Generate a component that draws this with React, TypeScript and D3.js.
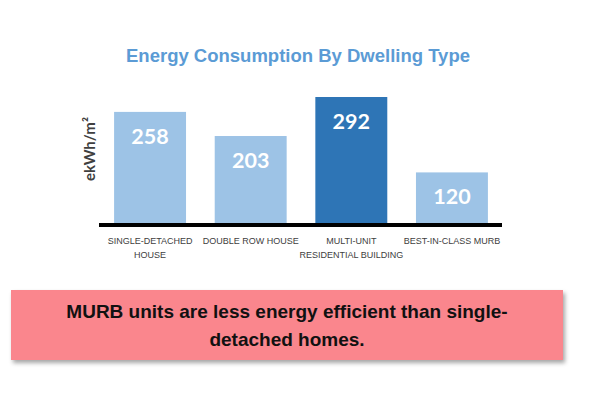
import { useEffect, useRef } from "react";
import * as d3 from "d3";

const CATEGORIES = ["single", "row", "murb", "best"];
const CATEGORY_LABELS: string[][] = [
  ["SINGLE-DETACHED", "HOUSE"],
  ["DOUBLE ROW HOUSE"],
  ["MULTI-UNIT", "RESIDENTIAL BUILDING"],
  ["BEST-IN-CLASS MURB"],
];
const VALUES = [258, 203, 292, 120];
const HIGHLIGHT = "murb";

const TITLE = "Energy Consumption By Dwelling Type";
const Y_LABEL = "ekWh/m²";
const CALLOUT = ["MURB units are less energy efficient than single-", "detached homes."];

export default function App() {
  const ref = useRef<SVGSVGElement>(null);

  useEffect(() => {
    const el = ref.current;
    if (!el) return;
    const W = 601, H = 416;
    const svg = d3.select(el).attr("width", W).attr("height", H).attr("viewBox", `0 0 ${W} ${H}`);
    svg.selectAll("*").remove();

    const data = CATEGORIES.map((k, i) => ({ key: k, v: VALUES[i], lines: CATEGORY_LABELS[i] }));
    const x = d3.scaleBand<string>().domain(CATEGORIES).range([100, 502]).paddingInner(0.285).paddingOuter(0.14);
    const y = d3.scaleLinear().domain([0, 292]).range([225, 97]);

    // drop shadow for callout
    const defs = svg.append("defs");
    const f = defs.append("filter").attr("id", "shadow").attr("x", "-5%").attr("y", "-10%").attr("width", "112%").attr("height", "130%");
    f.append("feDropShadow").attr("dx", 2).attr("dy", 3).attr("stdDeviation", 2).attr("flood-color", "#000").attr("flood-opacity", 0.35);

    svg.append("text")
      .attr("x", 298).attr("y", 62).attr("text-anchor", "middle")
      .attr("font-family", "'Liberation Sans', Arial, sans-serif").attr("font-weight", "bold").attr("font-size", 18.5)
      .attr("fill", "#5B9BD5").text(TITLE);

    svg.append("g").selectAll("rect").data(data).join("rect")
      .attr("x", (d) => x(d.key) ?? 0).attr("width", x.bandwidth())
      .attr("y", (d) => y(d.v)).attr("height", (d) => y(0) - y(d.v))
      .attr("fill", (d) => (d.key === HIGHLIGHT ? "#2E75B6" : "#9DC3E6"));

    svg.append("line").attr("x1", 99).attr("x2", 502).attr("y1", y(0)).attr("y2", y(0))
      .attr("stroke", "#000").attr("stroke-width", 4);

    svg.append("g").selectAll("text").data(data).join("text")
      .attr("x", (d) => (x(d.key) ?? 0) + x.bandwidth() / 2).attr("y", (d) => y(d.v) + 32)
      .attr("text-anchor", "middle").attr("font-family", "Lato, 'Open Sans', sans-serif").attr("font-weight", "bold")
      .attr("font-size", 21.5).attr("fill", "#fff").text((d) => d.v);

    const cat = svg.append("g").selectAll("text").data(data).join("text")
      .attr("text-anchor", "middle").attr("font-family", "'Liberation Sans', Arial, sans-serif")
      .attr("font-size", 9).attr("fill", "#404040");
    cat.selectAll("tspan").data((d) => d.lines.map((l) => ({ l, cx: (x(d.key) ?? 0) + x.bandwidth() / 2 })))
      .join("tspan").attr("x", (t) => t.cx).attr("y", (_, i) => 244 + i * 14).text((t) => t.l);

    svg.append("text")
      .attr("transform", "translate(95,149) rotate(-90)").attr("text-anchor", "middle")
      .attr("font-family", "Lato, 'Open Sans', sans-serif").attr("font-weight", "bold").attr("font-size", 15)
      .attr("fill", "#404040").text(Y_LABEL);

    svg.append("rect").attr("x", 11).attr("y", 290).attr("width", 552).attr("height", 70)
      .attr("fill", "#FA868D").attr("filter", "url(#shadow)");
    svg.append("g").selectAll("text").data(CALLOUT).join("text")
      .attr("x", 287).attr("y", (_, i) => 318 + i * 28).attr("text-anchor", "middle")
      .attr("font-family", "'Liberation Sans', Arial, sans-serif").attr("font-weight", "bold").attr("font-size", 19)
      .attr("fill", "#111").text((d) => d);
  }, []);

  return <svg ref={ref} style={{ position: "absolute", left: 0, top: 0 }} role="img" aria-label="Energy consumption by dwelling type" />;
}
